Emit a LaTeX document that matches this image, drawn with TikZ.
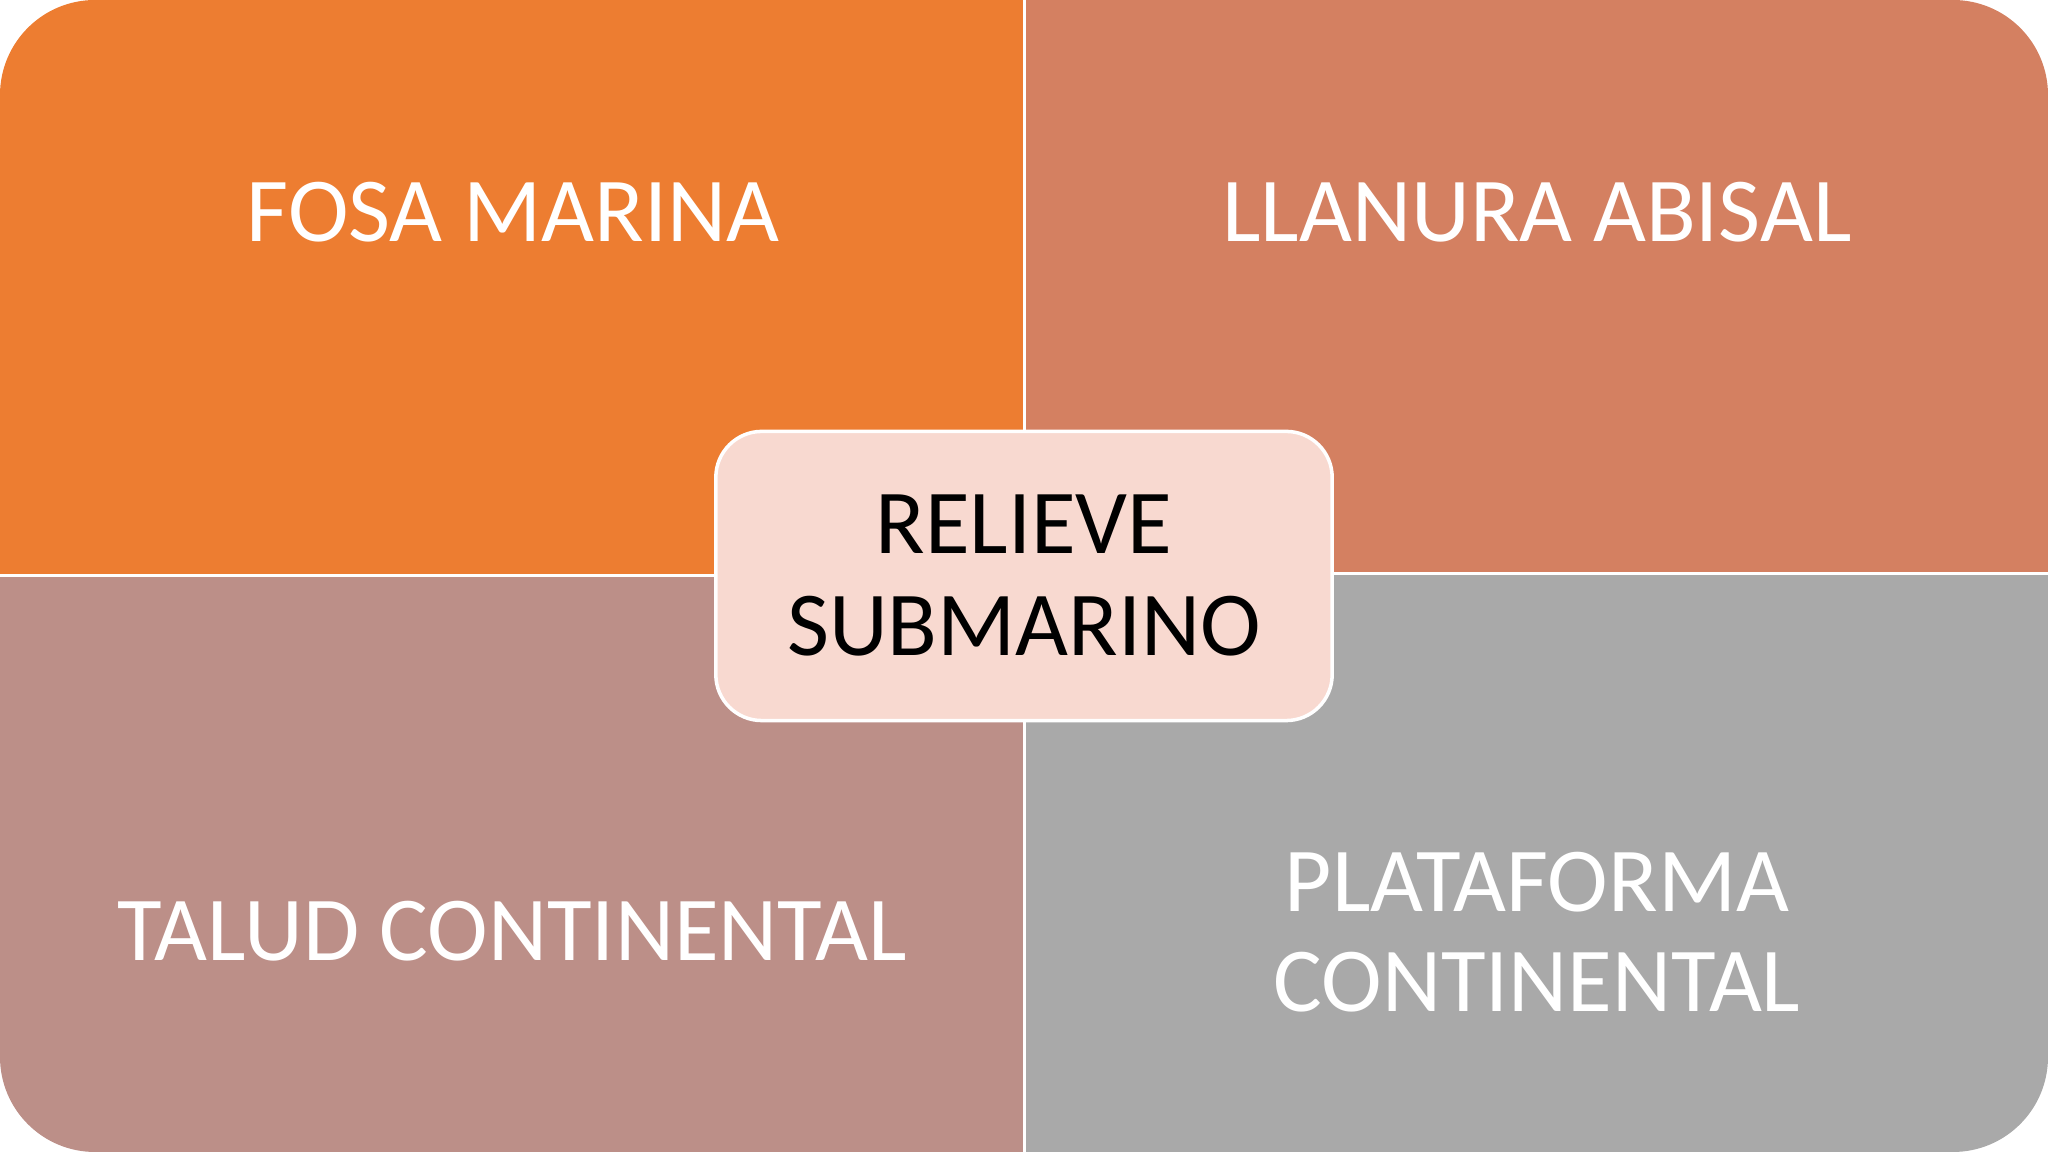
\documentclass[tikz,border=0pt]{standalone}
\usepackage{fontspec}
\setmainfont{Carlito}
\usepackage{tikz}
\usetikzlibrary{positioning}

\definecolor{fosaorange}{HTML}{ED7D31}
\definecolor{llanuraclay}{HTML}{D48061}
\definecolor{taludrose}{HTML}{BC8F88}
\definecolor{plataformagray}{HTML}{A9A9A9}
\definecolor{relievepink}{HTML}{F8D9D0}

\tikzset{
  zonelabel/.style = {text = white, align = center, font = \fontsize{26}{28.5}\selectfont},
  centrebox/.style = {draw = white, line width = 1pt, fill = relievepink, rounded corners = 0.46cm,
                      minimum width = 6.16cm, minimum height = 2.89cm, align = center,
                      font = \fontsize{26}{29}\selectfont}
}

\begin{document}
\begin{tikzpicture}[x = 0.01cm, y = 0.01cm]

\useasboundingbox (0, 0) rectangle (2048, 1152);

% the four zones, cut to one rounded frame
\begin{scope}
\clip[rounded corners = 0.95cm] (0, 0) rectangle (2048, 1152);
\fill[fosaorange] (0, 578) rectangle (1023, 1152);
\fill[llanuraclay] (1026, 580) rectangle (2048, 1152);
\fill[taludrose] (0, 0) rectangle (1023, 575);
\fill[plataformagray] (1026, 0) rectangle (2048, 577);
\end{scope}

\node[zonelabel] (fosa) at (513, 940) {FOSA MARINA};
\node[zonelabel] (llanura) at (1537, 940) {LLANURA ABISAL};
\node[zonelabel] (talud) at (512, 221) {TALUD CONTINENTAL};
\node[zonelabel] (plataforma) at (1537, 220) {PLATAFORMA\\CONTINENTAL};

\node[centrebox] (relieve) at (1024, 576) {RELIEVE\\SUBMARINO};

\end{tikzpicture}
\end{document}
